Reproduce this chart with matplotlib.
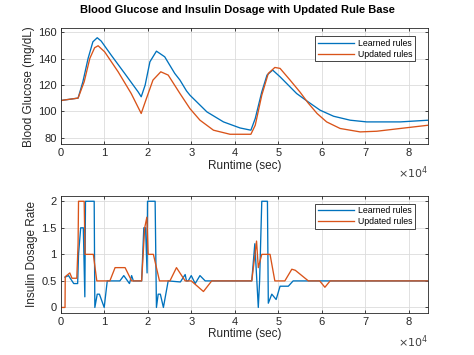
import matplotlib
matplotlib.use("Agg")
import matplotlib.pyplot as plt
from matplotlib.ticker import FuncFormatter

# ---------------- data ----------------
# Blood glucose (runtime in seconds, mg/dL)
bg_learned_t = [0, 500, 4000, 5100, 6300, 7400, 8400, 9300, 11600, 14700, 17800,
                18500, 19400, 20500, 22000, 23900, 26200, 27400, 28900, 29700,
                33600, 37400, 41200, 43700, 44700, 46200, 47400, 48700, 50400,
                54200, 56700, 59600, 62700, 66500, 70300, 78000, 84500]
bg_learned_v = [108, 108.4, 110, 122.4, 140.2, 152.8, 155.9, 153.4, 142.7, 128.8, 114.7,
                111, 119.8, 137.6, 145.7, 141.4, 128.8, 123.7, 115.5, 112.2,
                99.5, 91.9, 87.3, 85.6, 94.5, 114.7, 127.5, 131.3, 126.2,
                113.5, 107.5, 100.8, 96.2, 93.2, 91.9, 91.9, 93.2]
bg_updated_t = [0, 500, 4000, 5400, 6700, 7800, 8600, 10100, 13200, 16200, 18500,
                19700, 21200, 23000, 24700, 27400, 29700, 32000, 35100, 38900,
                43700, 44700, 46200, 47700, 49200, 50400, 52700, 55000, 56800,
                58900, 61100, 64200, 68800, 72600, 78000, 84500]
bg_updated_v = [108, 108.4, 110, 122.4, 140.2, 148.3, 149.8, 145.2, 130, 113.5, 98.3,
                109.7, 123.7, 130, 127.5, 113.5, 102, 93.2, 85.6, 82.5,
                82.5, 89.4, 112.2, 128.8, 133.3, 132.6, 123.7, 114.5, 106.5,
                98.3, 91.9, 86.9, 84.3, 84.8, 86.9, 89.4]

# Insulin dosage rate
ins_learned_t = [1000, 1800, 2600, 3000, 3900, 4100, 4600, 5200, 5550, 5700, 5800,
                 7700, 7850, 8400, 8900, 10000, 10700, 13600, 14500, 15800, 16300,
                 16700, 18600, 19100, 19500, 19850, 19950, 20400, 21700, 22000,
                 22400, 22900, 23600, 24700, 27500, 28600, 28900, 29300, 30000,
                 30900, 32000, 33200, 34300, 43900, 44600, 45400, 45700, 46200,
                 47500, 47700, 48500, 49500, 50400, 52300, 53400, 84500]
ins_learned_v = [0.57, 0.6, 0.5, 0.45, 0.45, 1.0, 1.5, 1.5, 0.2, 2.0, 2.0,
                 2.0, 0.0, 0.25, 0.25, 0.0, 0.5, 0.5, 0.6, 0.45, 0.6,
                 0.5, 0.5, 1.5, 1.5, 0.65, 2.0, 2.0, 2.0, 0.0,
                 0.25, 0.25, 0.0, 0.5, 0.48, 0.62, 0.5, 0.5, 0.6,
                 0.45, 0.6, 0.5, 0.5, 0.5, 1.2, 0.0, 0.5, 2.0,
                 2.0, 0.08, 0.25, 0.15, 0.4, 0.4, 0.5, 0.5]
ins_updated_t = [0, 1000, 1050, 2100, 2600, 3700, 4000, 4100, 5400, 5600, 7500,
                 8300, 11300, 12500, 14800, 16300, 18600, 19300, 19800, 20100,
                 21300, 22700, 25100, 26600, 28600, 30000, 32800, 34700, 43900,
                 45000, 45400, 46200, 48100, 49200, 51500, 53100, 53900, 56900,
                 59500, 60700, 61900, 84500]
ins_updated_v = [0.0, 0.0, 0.58, 0.65, 0.55, 0.55, 1.2, 2.0, 2.0, 1.0, 1.0,
                 0.5, 0.5, 0.75, 0.75, 0.5, 0.5, 1.5, 1.7, 1.0,
                 1.0, 0.5, 0.5, 0.75, 0.5, 0.5, 0.3, 0.5, 0.5,
                 1.25, 0.75, 1.0, 1.0, 0.5, 0.5, 0.72, 0.7, 0.5,
                 0.5, 0.38, 0.5, 0.5]

series_labels = ["Learned rules", "Updated rules"]
x_ticks = [0, 10000, 20000, 30000, 40000, 50000, 60000, 70000, 80000]
bg_ticks = [80, 100, 120, 140, 160]
ins_ticks = [0, 0.5, 1, 1.5, 2]

# ---------------- style ----------------
BLUE = "#0072BD"
ORANGE = "#D95319"
plt.rcParams["font.family"] = ["Liberation Sans", "DejaVu Sans"]

fig = plt.figure(figsize=(4.74, 3.55), dpi=100)
ax1 = fig.add_axes([0.128, 0.594, 0.776, 0.326])
ax2 = fig.add_axes([0.128, 0.119, 0.776, 0.329])

fmt = FuncFormatter(lambda v, p: f"{v/1e4:g}")

def style(ax):
    ax.set_xlim(0, 84500)
    ax.set_xticks(x_ticks)
    ax.xaxis.set_major_formatter(fmt)
    ax.grid(True, color="#dcdcdc", linewidth=0.6)
    ax.set_axisbelow(True)
    for s in ax.spines.values():
        s.set_color("#262626")
        s.set_linewidth(0.6)
    ax.tick_params(direction="in", length=2.5, width=0.6, labelsize=8,
                   colors="#262626", top=True, right=True, pad=3)
    ax.set_xlabel("Runtime (sec)", fontsize=8.5, color="#262626", labelpad=1)
    leg = ax.legend(loc="upper right", fontsize=6.3, frameon=True, fancybox=False,
                    edgecolor="#262626", framealpha=1, borderpad=0.3,
                    handlelength=4.2, handletextpad=0.4, labelspacing=0.2,
                    bbox_to_anchor=(0.975, 0.97))
    leg.get_frame().set_linewidth(0.6)
    ax.text(1.0, -0.25, r"$\times10^4$", transform=ax.transAxes, ha="right",
            va="center", fontsize=8, color="#404040")

ax1.plot(bg_learned_t, bg_learned_v, color=BLUE, lw=0.95, label=series_labels[0])
ax1.plot(bg_updated_t, bg_updated_v, color=ORANGE, lw=0.95, label=series_labels[1])
ax1.set_ylim(75, 163)
ax1.set_yticks(bg_ticks)
ax1.set_ylabel("Blood Glucose (mg/dL)", fontsize=8.5, color="#262626", labelpad=2)
style(ax1)

ax2.plot(ins_learned_t, ins_learned_v, color=BLUE, lw=0.95, label=series_labels[0])
ax2.plot(ins_updated_t, ins_updated_v, color=ORANGE, lw=0.95, label=series_labels[1])
ax2.set_ylim(-0.1, 2.1)
ax2.set_yticks(ins_ticks)
ax2.yaxis.set_major_formatter(FuncFormatter(lambda v, p: f"{v:g}"))
ax2.set_ylabel("Insulin Dosage Rate", fontsize=8.5, color="#262626", labelpad=2)
style(ax2)

fig.suptitle("Blood Glucose and Insulin Dosage with Updated Rule Base",
             fontsize=8, fontweight="bold", y=0.985, x=0.5)

fig.savefig("out.png", dpi=100)
